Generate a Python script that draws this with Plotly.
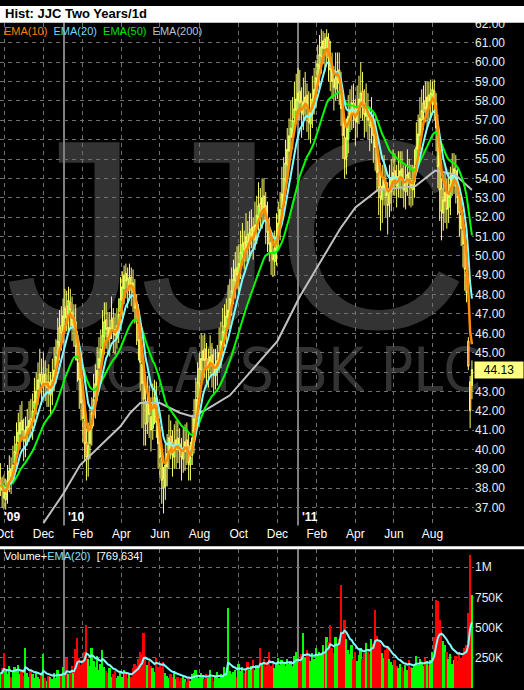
import numpy as np
import pandas as pd
import plotly.graph_objects as go

# two-day candles, Sep 2009 - Sep 2011
opens = [
    38.5, 38.1, 37.8, 37.4, 37.9, 38.3, 39.0, 38.7, 39.3, 39.8,
    40.4, 40.8, 41.5, 41.0, 40.4, 40.8, 41.1, 41.6, 41.4, 42.1,
    42.4, 43.1, 43.5, 43.9, 43.3, 43.9, 43.2, 43.5, 42.8, 43.0,
    43.7, 44.2, 44.9, 45.5, 46.4, 46.1, 46.8, 47.4, 46.9, 47.6,
    47.1, 46.3, 46.6, 45.4, 44.5, 43.7, 42.5, 41.5, 40.4, 39.5,
    40.3, 41.1, 41.8, 42.7, 43.3, 44.2, 44.6, 45.3, 45.8, 46.7,
    46.3, 45.7, 46.2, 46.8, 46.2, 45.8, 46.3, 47.1, 47.7, 48.3,
    49.1, 48.8, 48.2, 48.9, 48.6, 48.0, 47.4, 46.5, 45.7, 44.4,
    43.5, 42.5, 41.4, 42.5, 41.7, 41.1, 42.2, 42.6, 41.5, 40.4,
    39.5, 38.5, 38.1, 39.1, 39.9, 40.7, 40.4, 39.6, 40.0, 40.6,
    40.3, 40.0, 39.5, 39.9, 40.5, 40.2, 39.2, 39.7, 40.7, 41.5,
    42.7, 43.4, 44.1, 44.6, 45.2, 44.7, 44.1, 44.4, 44.9, 44.4,
    43.8, 44.1, 44.5, 45.1, 45.5, 46.0, 46.3, 46.8, 47.1, 47.7,
    48.1, 48.7, 49.4, 48.9, 49.5, 50.1, 50.7, 50.2, 51.1, 50.6,
    51.1, 51.5, 50.8, 51.5, 52.0, 52.7, 52.2, 53.1, 52.6, 51.9,
    51.3, 50.7, 50.1, 49.7, 50.3, 51.1, 51.6, 52.5, 53.1, 53.9,
    54.7, 55.4, 56.1, 56.5, 57.1, 57.5, 58.0, 58.5, 58.0, 57.3,
    57.8, 58.3, 57.5, 56.8, 57.3, 58.0, 58.5, 59.1, 59.8, 60.3,
    60.7, 61.2, 60.6, 61.2, 60.3, 59.7, 59.1, 58.6, 59.1, 59.6,
    58.8, 57.7, 56.1, 55.1, 56.0, 57.1, 57.4, 57.9, 57.4, 56.9,
    57.5, 58.0, 58.5, 57.9, 57.2, 57.7, 57.1, 56.6, 56.9, 56.3,
    55.5, 54.4, 53.6, 52.9, 53.5, 53.8, 53.2, 52.7, 53.3, 53.9,
    54.4, 54.1, 53.5, 54.0, 54.5, 53.8, 53.3, 53.7, 54.3, 53.8,
    53.4, 53.8, 54.7, 55.5, 56.2, 57.0, 57.4, 58.0, 57.5, 58.3,
    57.9, 58.3, 58.5, 57.9, 56.5, 54.7, 53.5, 52.2, 52.8, 53.2,
    52.5, 53.0, 53.6, 54.1, 54.4, 53.7, 53.0, 52.1, 51.3, 50.5,
    49.2, 45.6, 43.5, 43.3,
]
highs = [
    39.3, 38.6, 38.7, 38.5, 39.2, 39.7, 39.6, 40.2, 40.7, 41.4,
    41.9, 42.3, 42.5, 41.6, 41.7, 42.1, 42.5, 42.6, 42.9, 43.7,
    44.0, 44.5, 45.2, 44.7, 45.0, 44.6, 44.2, 44.4, 44.0, 44.7,
    45.3, 45.7, 46.8, 47.2, 47.4, 47.8, 48.3, 48.2, 48.4, 48.3,
    47.9, 47.5, 47.5, 46.1, 45.4, 44.4, 43.2, 42.5, 41.1, 41.4,
    42.2, 42.7, 43.9, 44.4, 45.3, 45.8, 46.2, 47.2, 47.6, 47.6,
    47.1, 47.1, 47.9, 47.3, 47.0, 47.3, 47.8, 48.9, 49.2, 49.5,
    49.6, 49.4, 49.6, 49.4, 49.3, 48.8, 48.0, 47.5, 46.3, 45.3,
    44.6, 43.2, 43.8, 43.3, 42.7, 43.4, 43.6, 43.5, 42.1, 41.2,
    40.3, 39.1, 40.3, 40.8, 41.8, 41.5, 41.0, 41.3, 41.5, 41.5,
    41.1, 40.6, 41.2, 41.3, 41.4, 40.9, 40.4, 41.8, 42.6, 43.7,
    44.5, 45.0, 46.0, 45.9, 46.0, 45.5, 45.2, 45.9, 45.5, 45.2,
    45.2, 45.4, 46.3, 46.6, 47.3, 47.5, 47.8, 48.5, 48.8, 49.4,
    49.8, 50.2, 50.5, 50.6, 51.3, 51.7, 51.3, 52.2, 51.8, 52.3,
    52.4, 52.0, 52.8, 53.1, 53.8, 53.5, 54.0, 54.0, 53.3, 52.8,
    52.0, 51.2, 51.2, 51.3, 52.2, 52.8, 53.3, 54.6, 55.1, 56.0,
    56.6, 57.1, 58.0, 58.2, 59.0, 59.4, 59.7, 59.6, 58.7, 59.2,
    59.5, 58.9, 58.5, 58.4, 59.3, 59.7, 60.1, 60.9, 61.4, 61.7,
    61.6, 61.5, 61.7, 61.5, 61.1, 60.5, 59.8, 60.5, 60.5, 60.5,
    59.5, 58.2, 57.1, 57.1, 58.3, 58.6, 58.8, 58.9, 58.1, 58.8,
    59.3, 60.0, 59.5, 58.6, 58.9, 58.4, 57.7, 58.2, 57.5, 57.1,
    56.2, 55.0, 54.8, 54.7, 55.2, 54.6, 53.8, 54.7, 55.0, 55.5,
    55.3, 54.7, 55.4, 55.4, 55.4, 54.7, 54.7, 55.5, 55.0, 54.7,
    54.7, 55.5, 56.9, 57.3, 58.2, 58.6, 58.8, 59.0, 59.0, 59.0,
    59.1, 59.0, 59.1, 58.4, 57.3, 55.4, 54.0, 54.2, 54.3, 54.0,
    54.2, 54.6, 55.3, 55.3, 55.2, 54.5, 53.5, 53.1, 51.9, 51.3,
    49.6, 45.8, 43.8, 44.6,
]
lows = [
    37.6, 37.0, 36.9, 36.9, 37.2, 37.8, 37.7, 38.2, 38.4, 39.1,
    39.8, 40.0, 40.4, 39.4, 39.6, 40.2, 40.4, 40.6, 40.5, 41.4,
    41.8, 42.3, 42.9, 42.3, 42.6, 42.5, 42.2, 42.2, 41.7, 42.3,
    43.0, 43.4, 44.3, 44.6, 45.1, 45.5, 46.0, 46.1, 46.0, 46.3,
    45.6, 45.3, 44.6, 43.5, 42.1, 41.5, 40.4, 39.4, 38.4, 38.6,
    39.5, 40.2, 41.2, 41.6, 42.5, 43.5, 43.7, 44.7, 44.9, 45.2,
    44.9, 44.8, 45.7, 45.0, 44.9, 45.2, 45.5, 46.5, 46.8, 47.5,
    47.8, 47.3, 47.7, 47.4, 47.1, 46.5, 45.4, 44.6, 43.0, 41.1,
    40.2, 40.2, 40.8, 40.6, 39.9, 40.5, 41.3, 40.6, 39.0, 38.5,
    37.2, 36.7, 37.4, 38.1, 39.0, 39.5, 38.6, 39.0, 39.0, 39.3,
    39.0, 38.4, 38.8, 38.9, 39.2, 38.4, 38.4, 39.2, 39.8, 40.9,
    42.0, 42.5, 43.6, 43.6, 43.7, 43.4, 43.2, 43.8, 43.2, 42.9,
    43.1, 43.3, 44.0, 44.2, 44.8, 45.3, 45.5, 46.2, 46.2, 46.9,
    47.5, 47.8, 48.3, 48.0, 48.8, 49.5, 49.3, 49.7, 49.6, 49.9,
    50.4, 49.8, 50.3, 50.6, 51.3, 51.5, 51.4, 51.8, 50.6, 50.2,
    49.7, 49.0, 48.9, 49.0, 49.5, 50.4, 50.8, 51.9, 52.2, 53.2,
    54.0, 54.5, 55.5, 55.5, 56.3, 56.8, 57.0, 57.0, 56.1, 56.5,
    57.0, 56.4, 56.0, 55.8, 56.6, 57.3, 57.6, 58.5, 58.7, 59.4,
    59.9, 59.5, 59.9, 59.0, 58.5, 58.1, 57.5, 58.0, 58.1, 57.8,
    56.7, 55.0, 54.0, 54.2, 55.3, 56.4, 56.5, 56.6, 55.7, 56.1,
    56.8, 57.1, 57.0, 56.1, 56.4, 56.0, 55.4, 55.8, 54.8, 54.4,
    53.3, 52.1, 51.3, 51.7, 52.6, 52.0, 51.1, 52.0, 52.3, 53.1,
    53.1, 52.5, 53.0, 53.0, 53.0, 52.5, 52.4, 53.1, 52.6, 52.5,
    52.6, 53.0, 54.2, 54.6, 55.5, 56.3, 56.5, 56.9, 56.6, 57.0,
    57.2, 57.4, 57.0, 55.4, 53.5, 51.8, 50.8, 51.3, 51.7, 51.4,
    51.7, 52.1, 53.1, 53.2, 52.7, 52.1, 51.0, 50.5, 49.4, 48.2,
    47.6, 44.1, 41.1, 42.6,
]
closes = [
    38.2, 37.9, 37.5, 37.8, 38.4, 38.9, 38.6, 39.2, 39.9, 40.3,
    40.9, 41.4, 41.0, 40.5, 40.7, 41.2, 41.5, 41.3, 42.0, 42.5,
    43.0, 43.6, 43.9, 43.4, 43.8, 43.3, 43.5, 42.9, 43.1, 43.6,
    44.1, 44.8, 45.6, 46.3, 46.0, 46.9, 47.3, 46.8, 47.7, 47.2,
    46.4, 46.7, 45.3, 44.6, 43.6, 42.4, 41.6, 40.3, 39.6, 40.2,
    41.2, 41.9, 42.6, 43.4, 44.1, 44.7, 45.2, 45.9, 46.6, 46.2,
    45.8, 46.3, 46.7, 46.1, 45.9, 46.4, 47.0, 47.8, 48.4, 49.0,
    48.7, 48.3, 48.9, 48.5, 48.1, 47.3, 46.6, 45.6, 44.5, 43.4,
    42.6, 41.3, 42.4, 41.8, 41.0, 42.3, 42.7, 41.4, 40.3, 39.6,
    38.4, 38.0, 39.2, 39.8, 40.6, 40.3, 39.7, 40.1, 40.5, 40.2,
    39.9, 39.6, 40.0, 40.4, 40.1, 39.3, 39.6, 40.6, 41.6, 42.6,
    43.5, 44.2, 44.7, 45.1, 44.6, 44.2, 44.5, 44.8, 44.3, 43.9,
    44.2, 44.6, 45.0, 45.6, 46.1, 46.4, 46.9, 47.2, 47.8, 48.2,
    48.8, 49.3, 49.0, 49.6, 50.2, 50.6, 50.3, 51.0, 50.7, 51.2,
    51.4, 50.9, 51.6, 52.1, 52.6, 52.3, 53.0, 52.5, 51.8, 51.2,
    50.6, 50.2, 49.8, 50.4, 51.0, 51.7, 52.4, 53.2, 54.0, 54.8,
    55.5, 56.2, 56.6, 57.0, 57.6, 58.1, 58.4, 57.9, 57.4, 57.9,
    58.2, 57.6, 56.9, 57.4, 58.1, 58.6, 59.2, 59.9, 60.4, 60.8,
    61.1, 60.7, 61.3, 60.2, 59.6, 59.0, 58.7, 59.2, 59.5, 58.9,
    57.6, 56.2, 55.0, 56.1, 57.2, 57.5, 57.9, 57.3, 57.0, 57.6,
    58.1, 58.4, 57.8, 57.3, 57.6, 57.0, 56.7, 56.9, 56.2, 55.6,
    54.3, 53.5, 53.0, 53.6, 53.9, 53.1, 52.6, 53.4, 54.0, 54.3,
    54.0, 53.6, 54.1, 54.4, 53.9, 53.4, 53.8, 54.2, 53.9, 53.5,
    53.7, 54.6, 55.6, 56.3, 57.1, 57.5, 57.9, 57.6, 58.2, 58.0,
    58.4, 58.6, 57.8, 56.6, 54.6, 53.4, 52.3, 52.9, 53.3, 52.4,
    53.1, 53.7, 54.2, 54.5, 53.6, 53.0, 52.2, 51.4, 50.6, 49.3,
    48.1, 44.3, 42.0, 44.13,
]
volume_k = [
    120, 160, 290, 140, 110, 180, 90, 130, 170, 150,
    190, 110, 140, 100, 330, 120, 90, 140, 110, 80,
    130, 90, 70, 110, 280, 80, 60, 100, 90, 70,
    120, 80, 150, 110, 95, 170, 90, 250, 110, 130,
    180, 120, 320, 410, 250, 190, 230, 300, 520, 240,
    180, 330, 220, 170, 260, 150, 200, 310, 170, 140,
    120, 160, 90, 110, 140, 80, 100, 130, 90, 150,
    110, 80, 120, 90, 160, 200, 180, 240, 300, 280,
    450, 260, 190, 220, 180, 160, 130, 250, 170, 190,
    160, 210, 120, 100, 80, 110, 90, 130, 70, 90,
    60, 80, 100, 70, 50, 90, 60, 110, 120, 150,
    100, 80, 120, 90, 70, 110, 80, 150, 90, 60,
    100, 130, 80, 110, 90, 170, 120, 660, 140, 110,
    130, 150, 90, 200, 140, 170, 120, 160, 210, 150,
    180, 230, 150, 190, 160, 330, 200, 240, 170, 210,
    300, 180, 220, 160, 200, 250, 190, 230, 210, 180,
    240, 200, 220, 180, 260, 300, 240, 210, 280, 450,
    250, 310, 270, 220, 290, 240, 330, 260, 300, 280,
    350, 300, 420, 380, 520, 330, 290, 420, 360, 400,
    850, 460, 560, 400, 310, 280, 350, 240, 300, 220,
    270, 330, 240, 290, 370, 320, 280, 400, 360, 640,
    430, 380, 360, 290, 250, 310, 330, 240, 210, 190,
    230, 180, 160, 200, 170, 140, 190, 150, 230, 170,
    160, 200, 260, 190, 240, 210, 180, 250, 220, 190,
    230, 300, 420, 730, 720, 560, 480, 390, 350, 300,
    240, 280, 200, 230, 260, 220, 300, 250, 280, 330,
    350, 620, 1100, 769.634,
]
# EMA(200) as drawn (trading-day index, value)
ema200_day = [48, 70, 89, 100, 122, 134, 145, 156, 178, 200, 215, 231,
              256, 279, 309, 334, 357, 379, 396, 421, 463, 485, 507, 526]
ema200 = [36.2, 37.7, 39.2, 39.7, 40.7, 41.2, 41.9, 42.4, 42.4, 41.9, 41.7, 42.1,
          42.8, 44.0, 45.6, 47.9, 49.7, 51.4, 52.5, 53.4, 53.6, 54.4, 54.2, 53.4]

tick_months = ["2009-10-01", "2009-12-01", "2010-02-01", "2010-04-01", "2010-06-01",
               "2010-08-01", "2010-10-01", "2010-12-01", "2011-02-01", "2011-04-01",
               "2011-06-01", "2011-08-01"]
tick_text = ["Oct", "Dec", "Feb", "Apr", "Jun", "Aug", "Oct", "Dec", "Feb", "Apr", "Jun", "Aug"]
year_starts = ["2010-01-01", "2011-01-01"]
price_ticks = list(range(37, 63))
vol_ticks = [0, 250000, 500000, 750000, 1000000]
vol_text = ["0K", "250K", "500K", "750K", "1M"]

days = pd.bdate_range("2009-09-24", periods=540)
tick_idx = [int(np.searchsorted(days, pd.Timestamp(m))) for m in tick_months]
year_idx = [int(np.searchsorted(days, pd.Timestamp(m))) for m in year_starts]
bar_x = [2 * k for k in range(len(closes))]

close_s = pd.Series(closes)
ema10 = close_s.ewm(span=5, adjust=False).mean()
ema20 = close_s.ewm(span=10, adjust=False).mean()
ema50 = close_s.ewm(span=25, adjust=False).mean()
volume = [v * 1000 for v in volume_k]
vol_ema = pd.Series(volume).ewm(span=10, adjust=False).mean()
vol_colors = ["#00ff00" if i == 0 or closes[i] >= closes[i - 1] else "#ff0000"
              for i in range(len(closes))]

FONT = "Liberation Sans, Arial, sans-serif"
W, H = 524, 690
xdom = [0, 474 / W]
pdom = [1 - 524 / H, 1 - 17 / H]
vdom = [1 - 688 / H, 1 - 548 / H]
grid = dict(showgrid=True, gridcolor="#707070", griddash="4px,4px", gridwidth=1,
            zeroline=False, showline=False, ticks="")

fig = go.Figure()
fig.add_trace(go.Candlestick(
    x=bar_x, open=opens, high=highs, low=lows, close=closes,
    increasing=dict(line=dict(color="#ffff66", width=1), fillcolor="#00ff00"),
    decreasing=dict(line=dict(color="#ffff66", width=1), fillcolor="#ff0000"),
    whiskerwidth=0, showlegend=False, hoverinfo="skip",
))
fig.add_trace(go.Scatter(x=ema200_day, y=ema200, mode="lines",
                         line=dict(color="#c0c0c0", width=2), showlegend=False))
fig.add_trace(go.Scatter(x=bar_x, y=ema50, mode="lines",
                         line=dict(color="#00ff00", width=2), showlegend=False))
fig.add_trace(go.Scatter(x=bar_x, y=ema20, mode="lines",
                         line=dict(color="#80ffff", width=2), showlegend=False))
fig.add_trace(go.Scatter(x=bar_x, y=ema10, mode="lines",
                         line=dict(color="#ff8c00", width=2.5), showlegend=False))

fig.add_trace(go.Bar(x=bar_x, y=volume, marker=dict(color=vol_colors, line=dict(width=0)),
                     xaxis="x2", yaxis="y2", showlegend=False))
fig.add_trace(go.Scatter(x=bar_x, y=vol_ema, mode="lines", line=dict(color="#80ffff", width=2),
                         xaxis="x2", yaxis="y2", showlegend=False))

shapes = [
    # watermark
    dict(type="rect", xref="paper", yref="paper", x0=0, x1=0.905, y0=0.599, y1=0.809,
         line=dict(width=0), layer="below",
         label=dict(text="JJC", font=dict(size=270, color="#333333", family=FONT),
                    textposition="middle center")),
    dict(type="rect", xref="paper", yref="paper", x0=0, x1=0.912, y0=0.439, y1=0.509,
         line=dict(width=0), layer="below",
         label=dict(text="BARCLAYS BK PLC",
                    font=dict(size=60, color="#333333",
                              family="Liberation Sans Narrow, DejaVu Sans Condensed, Liberation Sans"),
                    textposition="middle center")),
    # header and panel separator
    dict(type="rect", xref="paper", yref="paper", x0=0, x1=1, y0=1 - 17 / H, y1=1,
         fillcolor="white", line=dict(width=0), layer="above"),
    dict(type="rect", xref="paper", yref="paper", x0=0, x1=1, y0=1 - 548 / H, y1=1 - 545 / H,
         fillcolor="white", line=dict(width=0), layer="above"),
]
for yi in year_idx:
    for dom in (pdom, vdom):
        shapes.append(dict(type="line", xref="x", yref="paper", x0=yi, x1=yi,
                           y0=dom[0], y1=dom[1], line=dict(color="#808080", width=2),
                           layer="between"))

annotations = [
    dict(text="<b>Hist: JJC Two Years/1d</b>", xref="paper", yref="paper", x=3 / W,
         y=1 - 8 / H, xanchor="left", yanchor="middle", showarrow=False,
         font=dict(size=13, color="black", family=FONT)),
    dict(text="<span style='color:#ff8000'>EMA(10)</span>  "
              "<span style='color:#70d8ff'>EMA(20)</span>  "
              "<span style='color:#00e000'>EMA(50)</span>  "
              "<span style='color:#b8c0d0'>EMA(200)</span>",
         xref="paper", yref="paper", x=2 / W, y=1 - 25 / H, xanchor="left",
         yanchor="middle", showarrow=False, font=dict(size=11, family=FONT)),
    dict(text="<span style='color:white'>Volume+</span>"
              "<span style='color:#80e0ff'>EMA(20)</span>"
              "<span style='color:white'>  [769,634]</span>",
         xref="paper", yref="paper", x=2 / W, y=1 - 555 / H, xanchor="left",
         yanchor="middle", showarrow=False, font=dict(size=11, family=FONT)),
    dict(text="44.13", xref="paper", yref="y", x=474 / W, y=closes[-1], xanchor="left",
         yanchor="middle", showarrow=False, bgcolor="#ffff80", width=46, align="center",
         borderpad=1, font=dict(size=12, color="black", family=FONT)),
    # first month label, half cut by the left edge as in the original
    dict(text=tick_text[0], xref="x", yref="paper", x=tick_idx[0], y=1 - 533 / H,
         xanchor="center", yanchor="middle", showarrow=False,
         font=dict(size=12, color="white", family=FONT)),
]
for label, xi in (("'09", 1.5), ("'10", year_idx[0] + 2), ("'11", year_idx[1] + 2)):
    annotations.append(dict(text=f"<b>{label}</b>", xref="x", yref="paper", x=xi,
                            y=1 - 515 / H, xanchor="left", yanchor="middle", showarrow=False,
                            font=dict(size=12, color="white", family=FONT)))

fig.update_layout(
    width=W, height=H, margin=dict(l=0, r=0, t=0, b=0),
    paper_bgcolor="black", plot_bgcolor="black",
    font=dict(family=FONT, color="#e8e8e8", size=12),
    bargap=0, boxgap=0, hovermode=False,
    xaxis=dict(domain=xdom, range=[-0.4, 528.3], anchor="y", tickvals=tick_idx,
               ticktext=tick_text, tickfont=dict(size=12, color="white"),
               rangeslider=dict(visible=False), **grid),
    yaxis=dict(domain=pdom, range=[36.08, 62.03], side="right", anchor="x",
               tickvals=price_ticks, ticktext=[f"{v:.2f}" for v in price_ticks],
               tickfont=dict(size=12, color="#e8eef8"), **grid),
    xaxis2=dict(domain=xdom, range=[-0.4, 528.3], anchor="y2", matches="x",
                tickvals=tick_idx, showticklabels=False, **grid),
    yaxis2=dict(domain=vdom, range=[0, 1.148e6], side="right", anchor="x2",
                tickvals=vol_ticks, ticktext=vol_text,
                tickfont=dict(size=12, color="#e8eef8"), **grid),
    shapes=shapes, annotations=annotations,
)

fig.write_html("out.html", config={"displayModeBar": False},
               post_script="document.body.style.margin='0';"
                           "document.body.style.overflow='hidden';")
